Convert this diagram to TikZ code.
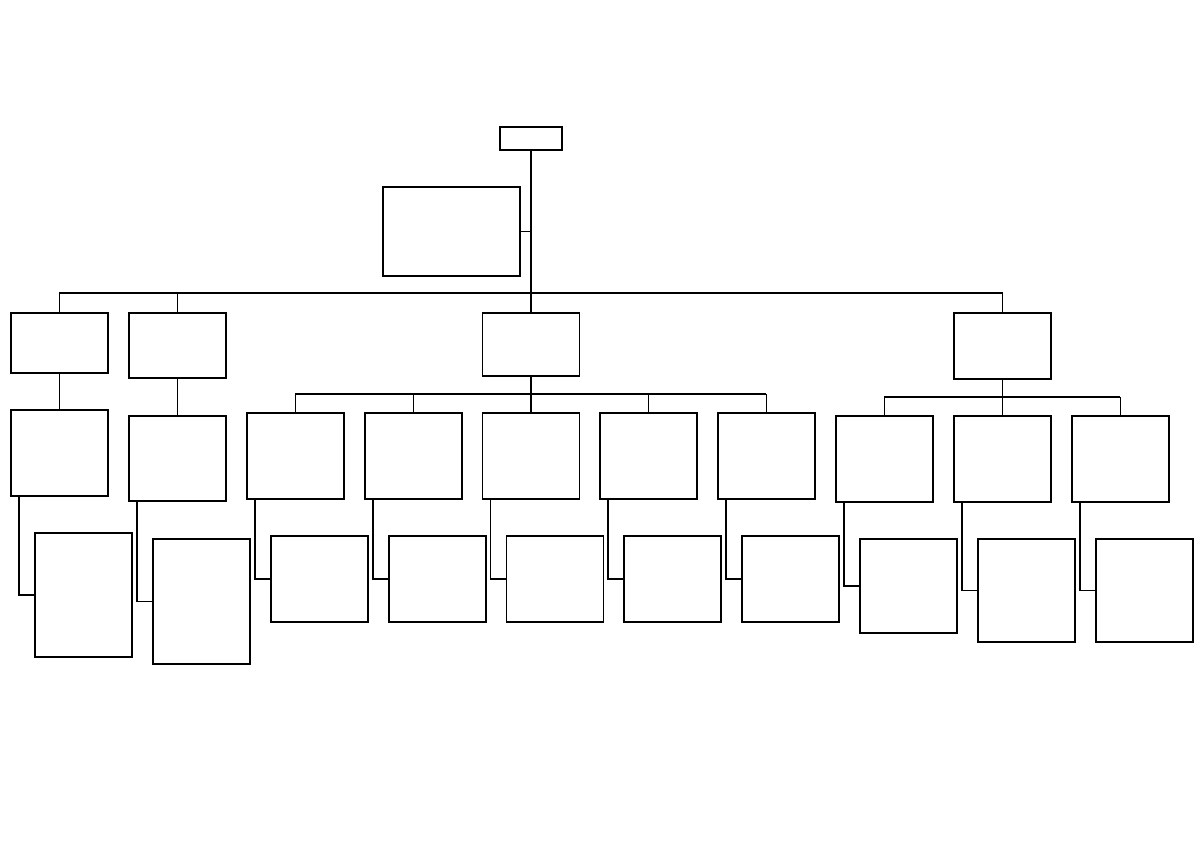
\documentclass[tikz,border=0pt]{standalone}
\usepackage{tikz}
\usetikzlibrary{positioning, calc}

\begin{document}
\begin{tikzpicture}[x=0.01cm, y=-0.01cm,
		OrgBox/.style={rectangle, draw, line width=0.5pt, inner sep=0pt, anchor=north west, minimum width=0.97cm},
		OrgLine/.style={line width=0.5pt}]

	\useasboundingbox (0,0) rectangle (1200,848);

	\node[OrgBox, minimum height=0.63cm] (C) at (481.5,312) {};
	\node[OrgBox, minimum width=0.62cm, minimum height=0.23cm, anchor=north] (Top) at (C.north |- 0,126) {};
	\node[OrgBox, minimum width=1.37cm, minimum height=0.89cm] (Asst) at (382,186) {};

	\node[OrgBox, minimum height=0.60cm] (A) at (10,312) {};
	\node[OrgBox, minimum height=0.65cm] (B) at (128,312) {};
	\node[OrgBox, minimum height=0.66cm] (D) at (953,312) {};

	\coordinate (Bus) at (C.north |- 0,293);
	\draw[OrgLine] (Top.south) -- (C.north);
	\draw[OrgLine] (Asst.east) -- (Asst.east -| Top.south);
	\draw[OrgLine] (A.north) |- (Bus) -| (D.north);
	\draw[OrgLine] (B.north) -- (B.north |- Bus);

	% left columns
	\node[OrgBox, minimum height=0.86cm] (A1) at (10,409) {};
	\node[OrgBox, minimum height=1.24cm] (A2) at (34,532) {};
	\draw[OrgLine] (A.south) -- (A1.north);
	\draw[OrgLine] ([xshift=0.09cm]A1.south west) |- (A2.west);

	\node[OrgBox, minimum height=0.85cm] (B1) at (128,415) {};
	\node[OrgBox, minimum height=1.25cm] (B2) at (152,538) {};
	\draw[OrgLine] (B.south) -- (B1.north);
	\draw[OrgLine] ([xshift=0.09cm]B1.south west) |- (B2.west);

	% middle group
	\coordinate (CBus) at (C.south |- 0,394);
	\foreach \i/\x in {1/246, 2/364, 3/481.5, 4/599, 5/717} {
		\node[OrgBox, minimum height=0.86cm] (C\i) at (\x,412) {};
		\node[OrgBox, minimum height=0.86cm] (C\i g) at ($(\x,535)+(24,0)$) {};
		\draw[OrgLine] (C\i.north) -- (C\i.north |- CBus);
		\draw[OrgLine] ([xshift=0.09cm]C\i.south west) |- (C\i g.west);
	}
	\draw[OrgLine] (C1.north |- CBus) -- (C5.north |- CBus);
	\draw[OrgLine] (C.south) -- (CBus);

	% right group
	\coordinate (DBus) at (D.south |- 0,397);
	\foreach \i/\x/\h in {1/835/0.94cm, 2/953/1.03cm, 3/1071/1.03cm} {
		\node[OrgBox, minimum height=0.86cm] (D\i) at (\x,415) {};
		\node[OrgBox, minimum height=\h] (D\i g) at ($(\x,538)+(24,0)$) {};
		\draw[OrgLine] (D\i.north) -- (D\i.north |- DBus);
		\draw[OrgLine] ([xshift=0.09cm]D\i.south west) |- (D\i g.west);
	}
	\draw[OrgLine] (D1.north |- DBus) -- (D3.north |- DBus);
	\draw[OrgLine] (D.south) -- (DBus);
\end{tikzpicture}
\end{document}
